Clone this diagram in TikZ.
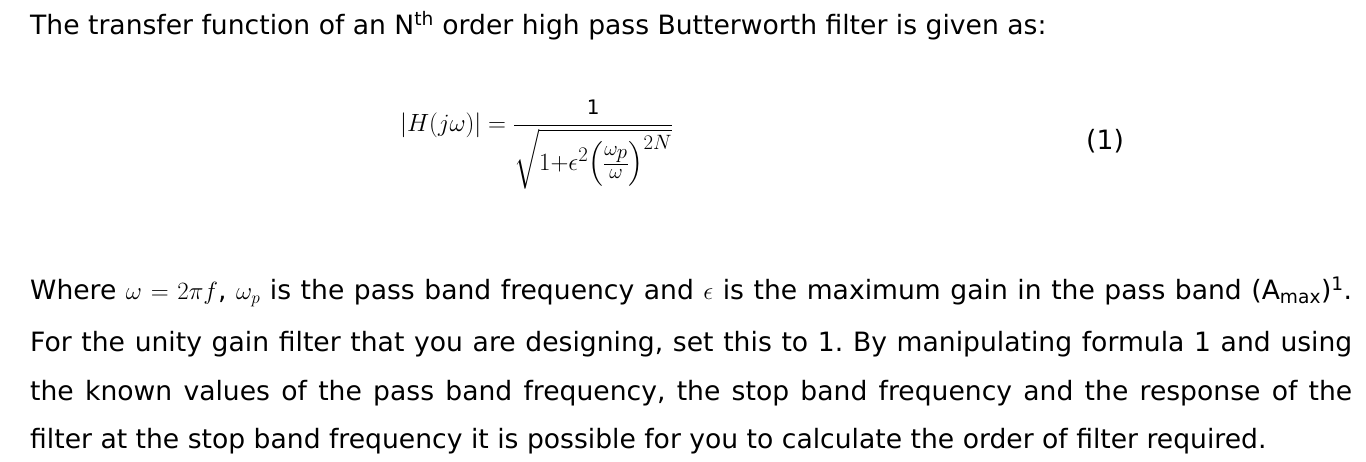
\documentclass[tikz,border=0pt]{standalone}
\usepackage{amsmath}
\usepackage{fontspec}
\setmainfont{DejaVu Sans}
\frenchspacing
\tikzset{txt/.style={anchor=base west,inner sep=0pt,font=\fontsize{26.6}{30}\selectfont}}
\begin{document}
\begin{tikzpicture}[x=1pt,y=-1pt]
\useasboundingbox[fill=white] (0,0) rectangle (1366,462);
\node[txt] (l1) at (30,35) {The transfer function of an N\textsuperscript{th} order high pass Butterworth filter is given as:};
\node[anchor=west,inner sep=0pt,font=\fontsize{40}{44}\selectfont] (eq) at (400,145) {$\displaystyle |H(j\omega)| = \frac{\text{\fontsize{20}{22}\selectfont 1}}{\sqrt{\scriptstyle 1+\epsilon^2\left(\frac{\omega_p}{\omega}\right)^{2N}}}$};
\node[txt] (n1) at (1086,150) {(1)};
\node[txt] (l2) at (30,300) {\makebox[1322pt][s]{Where $\omega = 2\pi f$, $\omega_p$ is the pass band frequency and $\epsilon$ is the maximum gain in the pass band (A\textsubscript{max})\textsuperscript{1}.}};
\node[txt] (l3) at (30,352) {\makebox[1322pt][s]{For the unity gain filter that you are designing, set this to 1. By manipulating formula 1 and using}};
\node[txt] (l4) at (30,400) {\makebox[1322pt][s]{the known values of the pass band frequency, the stop band frequency and the response of the}};
\node[txt] (l5) at (30,448) {filter at the stop band frequency it is possible for you to calculate the order of filter required.};
\end{tikzpicture}
\end{document}
